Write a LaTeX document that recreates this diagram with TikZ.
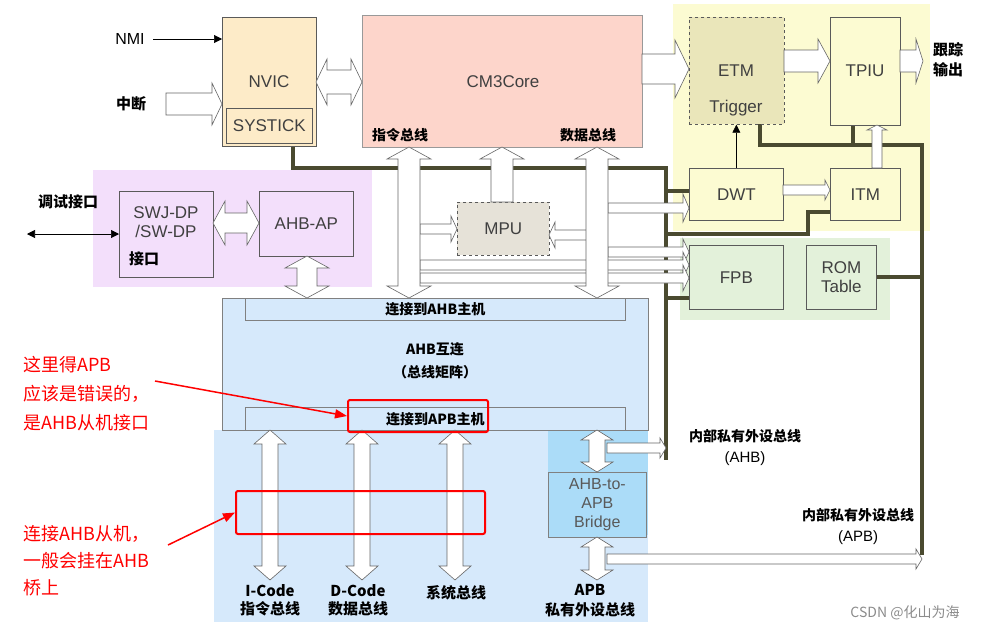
\documentclass[tikz,border=0pt]{standalone}
\usepackage{fontspec}
\setmainfont{Liberation Sans}
\newfontfamily\cjk{Noto Sans CJK SC}
\usetikzlibrary{arrows.meta}
\definecolor{nv}{HTML}{FDEBC8}
\definecolor{core}{HTML}{FDD5CB}
\definecolor{yel}{HTML}{FCFBD2}
\definecolor{etm}{HTML}{EAE6BA}
\definecolor{grn}{HTML}{E3F1DA}
\definecolor{pur}{HTML}{F3DFFB}
\definecolor{mpu}{HTML}{E6E2D8}
\definecolor{ahb}{HTML}{D6E9FB}
\definecolor{brg}{HTML}{ABDCF8}
\definecolor{bx}{HTML}{5A5A5A}
\definecolor{hd}{HTML}{4A4A30}
\tikzset{
  box/.style={draw=bx,line width=0.7pt},
  harr/.style={draw=black!60,fill=white,line width=0.6pt,line join=miter},
  bus/.style={draw=hd,line width=3.5pt},
  lbl/.style={font=\fontsize{17}{17}\selectfont,text=black!75},
  cl/.style={font=\cjk\bfseries\fontsize{14}{15}\selectfont},
  redt/.style={text=red,align=left,anchor=west},
  redarr/.style={draw=red,line width=1.5pt,-{Triangle[length=12,width=9]}},
}
\newcommand\HR[6]{\filldraw[harr] (#1,{#3-#4}) -- ({#2-#6},{#3-#4}) -- ({#2-#6},{#3-#5}) -- (#2,#3) -- ({#2-#6},{#3+#5}) -- ({#2-#6},{#3+#4}) -- (#1,{#3+#4}) -- cycle;}
\newcommand\HL[6]{\filldraw[harr] (#2,{#3-#4}) -- ({#1+#6},{#3-#4}) -- ({#1+#6},{#3-#5}) -- (#1,#3) -- ({#1+#6},{#3+#5}) -- ({#1+#6},{#3+#4}) -- (#2,{#3+#4}) -- cycle;}
\newcommand\HD[6]{\filldraw[harr] (#1,#3) -- ({#1+#6},{#3-#5}) -- ({#1+#6},{#3-#4}) -- ({#2-#6},{#3-#4}) -- ({#2-#6},{#3-#5}) -- (#2,#3) -- ({#2-#6},{#3+#5}) -- ({#2-#6},{#3+#4}) -- ({#1+#6},{#3+#4}) -- ({#1+#6},{#3+#5}) -- cycle;}
\newcommand\VD[6]{\filldraw[harr] (#1,#2) -- ({#1-#5},{#2+#6}) -- ({#1-#4},{#2+#6}) -- ({#1-#4},{#3-#6}) -- ({#1-#5},{#3-#6}) -- (#1,#3) -- ({#1+#5},{#3-#6}) -- ({#1+#4},{#3-#6}) -- ({#1+#4},{#2+#6}) -- ({#1+#5},{#2+#6}) -- cycle;}
\newcommand\VU[6]{\filldraw[harr] (#1,#2) -- ({#1-#5},{#2+#6}) -- ({#1-#4},{#2+#6}) -- ({#1-#4},#3) -- ({#1+#4},#3) -- ({#1+#4},{#2+#6}) -- ({#1+#5},{#2+#6}) -- cycle;}
\begin{document}
\begin{tikzpicture}[x=1pt,y=-1pt]
\useasboundingbox[fill=white] (0,0) rectangle (983,633);
\fill[yel] (673,4) rectangle (930,231);
\fill[grn] (680,238) rectangle (890,320);
\fill[pur] (93,170) rectangle (372,287);
\fill[ahb] (214,430) rectangle (648,622);
\fill[brg] (548,430) rectangle (648,535);
\draw[bus] (293,146) |- (666,168) -- (666,460);
\draw[bus] (666,191) -- (689,191);
\draw[bus] (666,234) -- (808,234) |- (830,212);
\draw[bus] (666,298) -- (689,298);
\draw[bus] (760,124) |- (922,145) -- (922,555);
\draw[bus] (853,125) -- (853,145);
\draw[bus] (876,277) -- (922,277);
% NVIC
\node[box,fill=nv,minimum width=94,minimum height=129,anchor=north west] (nvic) at (222,17) {};
\node[lbl] (nvict) at (269,82) {NVIC};
\node[box,fill=nv,minimum width=86,minimum height=35,anchor=north west] (sys) at (226,108) {};
\node[lbl] at (sys.center) {SYSTICK};
\node[font=\fontsize{16}{16}\selectfont] (nmi) at (130,39) {NMI};
\coordinate (nmie) at (153,39);
\draw[-{Triangle[length=8,width=8]},line width=0.6pt] (nmie) -- (nvic.west|-nmie);
\node[font=\cjk\bfseries\fontsize{15}{15}\selectfont] (intr) at (131,104) {中断};
\HR{166}{222}{104}{11}{21}{10}
% core
\node[box,draw=black!40,fill=core,minimum width=280,minimum height=132,anchor=north west] (core) at (362,15) {};
\node[lbl] at (503,82) {CM3Core};
\node[cl] at (400,135) {指令总线};
\node[cl] at (588,135) {数据总线};
\HD{316}{362}{82}{12}{23}{11}
% ETM TPIU
\node[box,dashed,fill=etm,minimum width=95,minimum height=107,anchor=north west] (etm) at (689,17) {};
\node[lbl] at (736,71) {ETM};
\node[lbl] at (736,108) {Trigger};
\node[box,fill=yel,minimum width=70,minimum height=108,anchor=north west] (tpiu) at (830,17) {};
\node[lbl] at (865,71) {TPIU};
\HR{642}{689}{69}{15}{29}{14}
\HR{784}{830}{61}{11}{22}{12}
\HR{900}{923}{61}{11}{22}{7}
\node[align=left,font=\cjk\bfseries\fontsize{15}{20}\selectfont] at (948,60) {跟踪\\输出};
\node[box,fill=yel,minimum width=94,minimum height=52,anchor=north west] (dwt) at (689,168) {};
\node[lbl] at (dwt.center) {DWT};
\node[box,fill=yel,minimum width=70,minimum height=52,anchor=north west] (itm) at (830,168) {};
\node[lbl] at (itm.center) {ITM};
\HR{783}{830}{190}{5}{10}{5}
\VU{877}{125}{168}{5}{10}{5}
\draw[-{Triangle[length=8,width=8]},line width=0.6pt] (dwt.north) -- (dwt.north|-etm.south);
% FPB ROM
\node[box,fill=grn,minimum width=94,minimum height=64,anchor=north west] (fpb) at (689,245) {};
\node[lbl] at (fpb.center) {FPB};
\node[box,fill=grn,minimum width=70,minimum height=64,anchor=north west] (rom) at (806,245) {};
\node[lbl,align=center,font=\fontsize{17}{19}\selectfont] at (rom.center) {ROM\\Table};
% MPU and bus arrows
\node[box,dashed,fill=mpu,minimum width=92,minimum height=53,anchor=north west] (mpu) at (457,202) {};
\node[lbl] at (mpu.center) {MPU};
\HR{608}{689}{208}{5}{14}{6}
\HL{549}{597}{235}{5}{13}{6}
\HR{420}{457}{229}{5}{13}{6}
\HR{608}{689}{252}{5}{13}{6}
\HR{420}{689}{265}{5}{13}{6}
\HR{420}{689}{278}{5}{13}{6}
\VU{502}{147}{202}{11}{22}{12}
\VD{409}{147}{298}{11}{22}{12}
\VD{597}{147}{298}{11}{22}{12}
% debug
\node[box,fill=pur,minimum width=94,minimum height=86,anchor=north west] (swj) at (119,191) {};
\node[lbl,align=center,font=\fontsize{17}{19}\selectfont] at (166,222) {SWJ-DP\\/SW-DP};
\node[cl,font=\cjk\bfseries\fontsize{15}{15}\selectfont] at (144,259) {接口};
\node[box,fill=pur,minimum width=94,minimum height=65,anchor=north west] (ap) at (259,191) {};
\node[lbl] at (ap.center) {AHB-AP};
\HD{213}{259}{223}{10}{22}{12}
\VD{307}{256}{298}{10}{22}{12}
\node[font=\cjk\bfseries\fontsize{15}{15}\selectfont] at (68,202) {调试接口};
\coordinate (dbg) at (27,234);
\draw[{Triangle[length=8,width=8]}-{Triangle[length=8,width=8]},line width=0.6pt] (dbg) -- (swj.west|-dbg);
% AHB interconnect
\node[box,draw=black!50,fill=ahb,minimum width=426,minimum height=132,anchor=north west] (ahbm) at (222,298) {};
\node[box,draw=black!50,minimum width=380,minimum height=22,anchor=north west] (ahbh) at (245,298) {};
\node[cl] at (ahbh.center) {连接到AHB主机};
\node[cl] at (435,349) {AHB互连};
\node[cl] at (435,372) {（总线矩阵）};
\node[box,draw=black!50,minimum width=380,minimum height=23,anchor=north west] (apbh) at (245,407) {};
\node[cl] at (apbh.center) {连接到APB主机};
\VD{270}{430}{580}{8}{16}{14}
\VD{362}{430}{580}{8}{16}{14}
\VD{455}{430}{580}{8}{16}{14}
\node[align=center,font=\cjk\bfseries\fontsize{15}{18}\selectfont] at (270,600) {I-Code\\指令总线};
\node[align=center,font=\cjk\bfseries\fontsize{15}{18}\selectfont] at (358,600) {D-Code\\数据总线};
\node[font=\cjk\bfseries\fontsize{15}{18}\selectfont] at (456,593) {系统总线};
\node[align=center,font=\cjk\bfseries\fontsize{15}{20}\selectfont] at (590,601) {APB\\私有外设总线};
% bridge
\node[box,draw=black!50,fill=brg,minimum width=98,minimum height=65,anchor=north west] (br) at (548,472) {};
\node[lbl,align=center,font=\fontsize{16}{19}\selectfont,text=black!65] at (br.center) {AHB-to-\\APB\\Bridge};
\VD{597}{430}{472}{8}{16}{10}
\VD{597}{537}{580}{8}{16}{10}
\HR{607}{666}{448}{5}{10}{6}
\HR{607}{922}{559}{5}{10}{6}
\node[align=center,font=\cjk\bfseries\fontsize{14}{21}\selectfont] at (745,447) {内部私有外设总线\\\normalfont\fontsize{15}{15}\selectfont(AHB)};
\node[align=center,font=\cjk\bfseries\fontsize{14}{21}\selectfont] at (858,526) {内部私有外设总线\\\normalfont\fontsize{15}{15}\selectfont(APB)};
% annotations
\node[draw=red,line width=2pt,rounded corners=2pt,minimum width=140,minimum height=32,anchor=north west] (rb1) at (347,399) {};
\node[draw=red,line width=2pt,rounded corners=2pt,minimum width=249,minimum height=43,anchor=north west] (rb2) at (235,490) {};
\node[redt,font=\cjk\fontsize{18}{29}\selectfont] (t1) at (20,394) {这里得APB\\应该是错误的，\\是AHB从机接口};
\node[redt,font=\cjk\fontsize{18}{27}\selectfont] (t2) at (20,561) {连接AHB从机，\\一般会挂在AHB\\桥上};
\coordinate (a1) at (155,381);
\coordinate (a2) at (168,545);
\draw[redarr] (a1) -- (rb1.west);
\draw[redarr] (a2) -- (rb2.west);
\node[font=\cjk\fontsize{14}{14}\selectfont,text=black!45] at (905,613) {CSDN @化山为海};
\end{tikzpicture}
\end{document}
